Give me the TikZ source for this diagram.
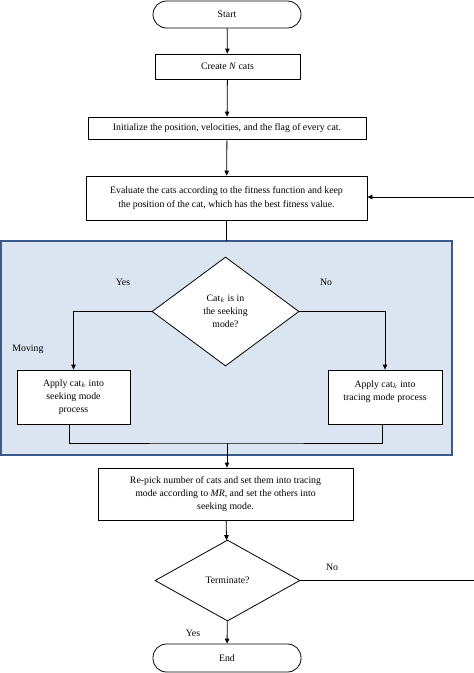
\documentclass[tikz,border=0pt]{standalone}
\usepackage{fontspec}
\setmainfont{Liberation Serif}
\usetikzlibrary{arrows.meta,shapes.geometric}
\definecolor{panelfill}{HTML}{DBE5F1}
\definecolor{panelline}{HTML}{3B5A8A}
\begin{document}
\begin{tikzpicture}[x=1pt,y=-1pt,
  font=\fontsize{9.8}{13.3}\selectfont,
  box/.style={draw=black,line width=0.8pt,fill=white,align=center,inner sep=2pt},
  term/.style={box,rounded corners=13.5pt},
  dec/.style={draw=black,line width=0.8pt,fill=white,diamond,align=center,inner sep=0pt},
  conn/.style={draw=black,line width=0.8pt},
  arr/.style={conn,-{Triangle[length=5pt,width=4.5pt]}},
  lbl/.style={inner sep=0pt}]
\useasboundingbox (0,0) rectangle (474,673);
% panel
\path[fill=panelfill,draw=panelline,line width=2pt] (1,241) rectangle (452,455);
% nodes
\node[term,minimum width=148pt,minimum height=27pt] (start) at (227,14.5) {Start};
\node[box,minimum width=145pt,minimum height=25pt] (create) at (227.5,66.5) {Create \textit{N} cats};
\node[box,minimum width=278pt,minimum height=22pt] (init) at (227,128) {Initialize the position, velocities, and the flag of every cat.};
\node[box,minimum width=281pt,minimum height=44pt] (eval) at (226.5,198) {Evaluate the cats according to the fitness function and keep\\the position of the cat, which has the best fitness value.};
\node[dec,minimum width=147pt,minimum height=109pt] (dia1) at (225.5,311.5) {Cat$_{\scriptstyle k}$ is in\\the seeking\\mode?};
\node[box,minimum width=113pt,minimum height=54pt] (lbox) at (73.5,397) {Apply cat$_{k}$ into\\seeking mode\\process};
\node[box,minimum width=114pt,minimum height=54pt] (rbox) at (385,397) {Apply cat$_{k}$ into\\tracing mode process\\\mbox{}};
\node[box,minimum width=255pt,minimum height=52pt] (repick) at (225.5,494) {Re-pick number of cats and set them into tracing\\mode according to \textit{MR}, and set the others into\\seeking mode.};
\node[dec,minimum width=145pt,minimum height=81pt] (dia2) at (227.5,580.5) {Terminate?};
\node[term,minimum width=148pt,minimum height=28pt] (end) at (227,658) {End};
% labels
\node[lbl] (yes1) at (123,282) {Yes};
\node[lbl] (no1) at (326,282) {No};
\node[lbl] (moving) at (28,349) {Moving};
\node[lbl] (no2) at (332,567) {No};
\node[lbl] (yes2) at (193,633) {Yes};
% coordinates
\coordinate (merge) at (227,443);
\coordinate (noR) at (474,580.5);
\coordinate (loopR) at (474,197);
% connectors
\draw[arr] (start) -- (create);
\draw[arr] (create) -- (init);
\draw[arr] (init) -- (eval);
\draw[conn] (eval.south) -- (eval.south |- 0,241);
\draw[arr] (dia1.west) -| (lbox.north);
\draw[arr] (dia1.east) -| (rbox.north);
\draw[conn] ([xshift=-4.5pt]lbox.south) |- (merge) -| ([xshift=-3pt]rbox.south);
\draw[arr] (merge) -- (repick.north -| merge);
\draw[arr] (repick) -- (dia2);
\draw[arr] (dia2) -- (end);
\draw[conn] (dia2.east) -- (noR);
\draw[arr] (loopR) -- (eval.east |- loopR);
\end{tikzpicture}
\end{document}
